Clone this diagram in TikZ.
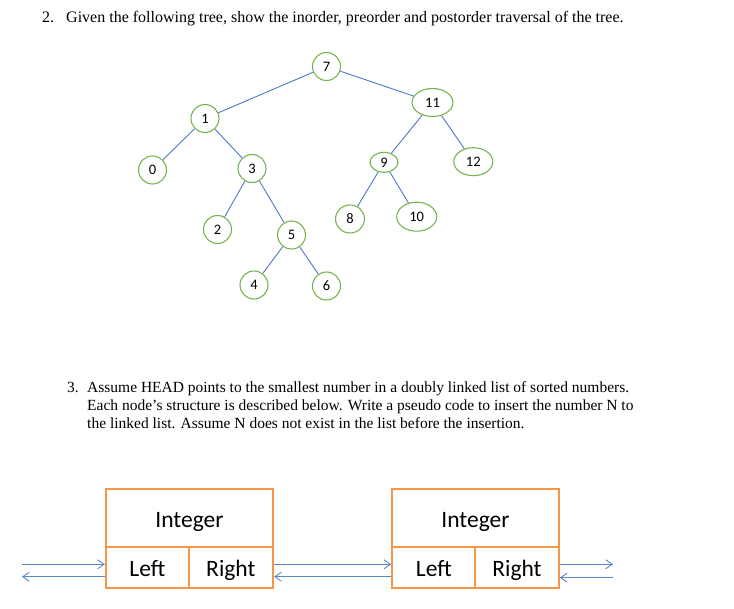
\documentclass[tikz,border=0pt]{standalone}
\usepackage{fontspec}
\setmainfont{Liberation Serif}
\newfontfamily\calib{Carlito}
\usetikzlibrary{arrows.meta,shapes.geometric,calc}
\definecolor{edgeblue}{RGB}{75,120,200}
\definecolor{nodegreen}{RGB}{120,180,80}
\definecolor{boxorange}{RGB}{247,150,70}
\definecolor{arrowblue}{RGB}{90,135,200}
\begin{document}
\begin{tikzpicture}[x=1pt,y=-1pt,
  tnode/.style={ellipse,draw=nodegreen,line width=1.1pt,fill=white,inner sep=0pt,
    font=\calib\fontsize{14.5}{16}\selectfont},
  tedge/.style={draw=edgeblue,line width=0.9pt},
  cell/.style={rectangle,draw=boxorange,line width=2.2pt,inner sep=0pt,
    text height=20pt,text depth=2pt,
    font=\calib\fontsize{23.5}{26}\selectfont},
  lnk/.style={draw=arrowblue,line width=0.9pt,-{Straight Barb[length=6.5pt,width=9pt]}},
  txt/.style={anchor=base west,inner sep=0pt,font=\fontsize{15.5}{18}\selectfont}]
\useasboundingbox (0,0) rectangle (734,609);
% texts
\node[txt,font=\fontsize{16}{18}\selectfont] (n2) at (42,22.3) {2.};
\node[txt,font=\fontsize{16}{18}\selectfont] (t2) at (66,22.3) {Given the following tree, show the inorder, preorder and postorder traversal of the tree.};
\node[txt] (n3) at (67,392.5) {3.};
\node[txt] (t3a) at (87,392.5) {Assume HEAD points to the smallest number in a doubly linked list of sorted numbers.};
\node[txt] (t3b) at (87,410.7) {Each node’s structure is described below. Write a pseudo code to insert the number N to};
\node[txt] (t3c) at (87,428.6) {the linked list. Assume N does not exist in the list before the insertion.};
% tree nodes
\node[tnode,minimum width=28pt,minimum height=28pt] (v7) at (326.5,66.5) {7};
\node[tnode,minimum width=28pt,minimum height=28pt] (v1) at (205,118.5) {1};
\node[tnode,minimum width=28pt,minimum height=28pt] (v0) at (152.5,170) {0};
\node[tnode,minimum width=28pt,minimum height=28pt] (v3) at (252,168.5) {3};
\node[tnode,minimum width=28pt,minimum height=28pt] (v2) at (217.5,229.5) {2};
\node[tnode,minimum width=28pt,minimum height=28pt] (v5) at (291.5,235) {5};
\node[tnode,minimum width=28pt,minimum height=28pt] (v4) at (254,285) {4};
\node[tnode,minimum width=28pt,minimum height=28pt] (v6) at (326.5,286) {6};
\node[tnode,minimum width=29pt,minimum height=28pt] (v8) at (350,219) {8};
\node[tnode,minimum width=41pt,minimum height=28pt] (v11) at (432.5,102.5) {11};
\node[tnode,minimum width=28pt,minimum height=20pt] (v9) at (384,162.3) {9};
\node[tnode,minimum width=39pt,minimum height=28pt] (v12) at (473.3,161.7) {12};
\node[tnode,minimum width=40pt,minimum height=29pt] (v10) at (416.7,216.7) {10};
% tree edges
\foreach \a/\b in {v7/v1,v7/v11,v1/v0,v1/v3,v3/v2,v3/v5,v5/v4,v5/v6,v11/v9,v11/v12,v9/v8,v9/v10}
  \draw[tedge] (\a) -- (\b);
% boxes
\node[cell,minimum width=167pt,minimum height=58.3pt] (I1) at (189.5,518.2) {Integer};
\node[cell,minimum width=82.7pt,minimum height=41pt] (L1) at (147.35,567.8) {Left};
\node[cell,minimum width=84.3pt,minimum height=41pt] (R1) at (230.85,567.8) {Right};
\node[cell,minimum width=166.4pt,minimum height=58.3pt] (I2) at (475.5,518.2) {Integer};
\node[cell,minimum width=83pt,minimum height=41pt] (L2) at (433.8,567.8) {Left};
\node[cell,minimum width=83.4pt,minimum height=41pt] (R2) at (517,567.8) {Right};
% links
\coordinate (a1) at (22,564.3);
\coordinate (a2) at (22,576.7);
\coordinate (a3) at (613,564.3);
\coordinate (a4) at (613,577.7);
\draw[lnk] (a1) -- ($(L1.west)+(0,-3.5)$);
\draw[lnk] ($(L1.west)+(0,8.9)$) -- (a2);
\draw[lnk] ($(R1.east)+(0,-3.5)$) -- ($(L2.west)+(0,-3.5)$);
\draw[lnk] ($(L2.west)+(0,8.9)$) -- ($(R1.east)+(0,8.9)$);
\draw[lnk] ($(R2.east)+(0,-3.5)$) -- (a3);
\draw[lnk] (a4) -- ($(R2.east)+(0,9.9)$);
\end{tikzpicture}
\end{document}
